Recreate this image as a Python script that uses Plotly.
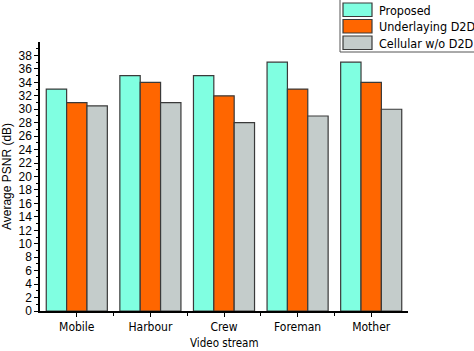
import plotly.graph_objects as go

categories = ["Mobile", "Harbour", "Crew", "Foreman", "Mother"]
proposed = [33, 35, 35, 37, 37]
underlaying = [31, 34, 32, 33, 34]
cellular = [30.5, 31, 28, 29, 30]
series_names = ["Proposed", "Underlaying D2D", "Cellular w/o D2D"]
colors = ["#80FFE1", "#FF6600", "#C4CCCB"]
y_ticks = list(range(0, 40, 2))

W, H = 474, 351
L, R, T, B = 40, 66, 42, 40
PW, PH = W - L - R, H - T - B

def px(x):
    return (x - L) / PW

def py(y):
    return 1 + (T - y) / PH

EDGE = "#3a3a3a"
TXT_FONT = "DejaVu Sans Condensed, DejaVu Sans"

fig = go.Figure()
for name, vals, c in zip(series_names, [proposed, underlaying, cellular], colors):
    fig.add_trace(go.Bar(
        x=list(range(len(categories))), y=vals, name=name, showlegend=False,
        marker=dict(color=c, line=dict(color=EDGE, width=1.2)),
    ))

# custom legend (box, swatches, labels)
shapes = [dict(type="rect", xref="paper", yref="paper",
               x0=px(340), x1=px(476), y0=py(52), y1=py(-2),
               line=dict(color="#555555", width=1), fillcolor="white", layer="above")]
annotations = []
row_tops = [3, 19.5, 36]
for name, c, top in zip(series_names, colors, row_tops):
    shapes.append(dict(type="rect", xref="paper", yref="paper",
                       x0=px(343), x1=px(372), y0=py(top + 13.5), y1=py(top),
                       line=dict(color=EDGE, width=1.2), fillcolor=c, layer="above"))
    annotations.append(dict(xref="paper", yref="paper", x=px(377), y=py(top + 7),
                            xanchor="left", yanchor="middle", text=name, showarrow=False,
                            font=dict(family=TXT_FONT, size=12.5, color="black")))

# x-axis title placed just below the tick labels
annotations.append(dict(xref="paper", yref="paper", x=0.5, y=py(351.5),
                        xanchor="center", yanchor="bottom", text="Video stream", showarrow=False,
                        font=dict(family=TXT_FONT, size=11.5, color="black")))

fig.update_layout(
    width=W, height=H,
    margin=dict(l=L, r=R, t=T, b=B, autoexpand=False),
    paper_bgcolor="white", plot_bgcolor="white",
    barmode="group", bargap=0.17, bargroupgap=0,
    font=dict(family=TXT_FONT, size=12, color="black"),
    showlegend=False,
    shapes=shapes, annotations=annotations,
    xaxis=dict(
        automargin=False,
        range=[-0.5, 4.5],
        tickmode="array", tickvals=list(range(len(categories))), ticktext=categories,
        showline=True, linecolor="black", linewidth=1.5,
        ticks="outside", ticklen=4, tickwidth=1.2, tickcolor="black",
        minor=dict(tickmode="array", tickvals=[0.5, 1.5, 2.5, 3.5], ticks="outside", ticklen=3, tickcolor="black"),
        showgrid=False, zeroline=False,
        tickfont=dict(family=TXT_FONT, size=12),
    ),
    yaxis=dict(
        automargin=False,
        range=[0, 40],
        tickmode="array", tickvals=y_ticks, ticktext=[str(v) for v in y_ticks],
        showline=True, linecolor="black", linewidth=1.5,
        ticks="outside", ticklen=4, tickwidth=1.2, tickcolor="black",
        minor=dict(tickmode="array", tickvals=list(range(1, 40, 2)), ticks="outside", ticklen=2, tickcolor="black"),
        showgrid=False, zeroline=False,
        tickfont=dict(family="Liberation Sans", size=12),
        title=dict(text="Average PSNR (dB)", standoff=4, font=dict(family="Liberation Sans", size=12)),
    ),
)

fig.write_html("out.html")
